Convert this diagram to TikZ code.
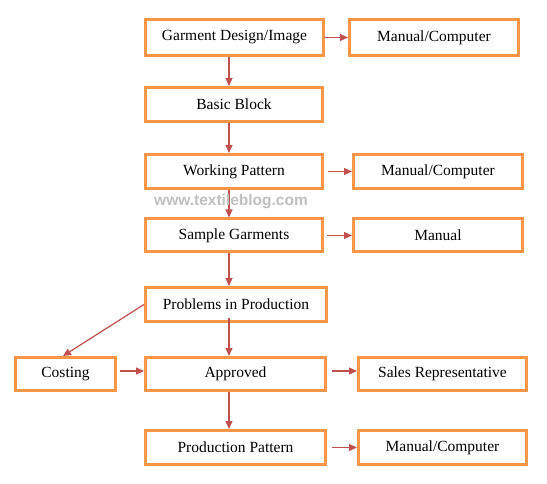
\documentclass[tikz,border=0pt]{standalone}
\usepackage{fontspec}
\setmainfont{Liberation Serif}
\newfontfamily\wmfont{Liberation Sans}
\usetikzlibrary{arrows.meta}
\definecolor{boxorange}{HTML}{F79646}
\definecolor{arrred}{HTML}{C0504D}
\definecolor{wmgray}{RGB}{192,192,192}
\begin{document}
\begin{tikzpicture}[x=1pt,y=-1pt,
  stepbox/.style={draw=boxorange, line width=3pt, fill=white, inner sep=0pt,
    font=\fontsize{15.5}{18}\selectfont, text=black},
  arr/.style={draw=arrred, line width=1.2pt, -{Triangle[length=8pt,width=7pt]}}]
\useasboundingbox (0,0) rectangle (547,484);
\fill[white] (0,0) rectangle (547,484);
% boxes: center, outer width/height minus line width
\node[stepbox, minimum width=178pt, minimum height=36pt] (gd) at (234.5,37.5) {Garment Design/Image};
\node[stepbox, minimum width=169pt, minimum height=36pt] (m1) at (434,37.5) {Manual/Computer};
\node[stepbox, minimum width=177pt, minimum height=34pt] (bb) at (234,104.5) {Basic Block};
\node[stepbox, minimum width=177pt, minimum height=34pt] (wp) at (234,171.5) {Working Pattern};
\node[stepbox, minimum width=169pt, minimum height=34pt] (m2) at (438,171.5) {Manual/Computer};
\node[stepbox, minimum width=177pt, minimum height=33pt] (sg) at (234,235.5) {Sample Garments};
\node[stepbox, minimum width=169pt, minimum height=33pt] (m3) at (438,235.5) {Manual};
\node[stepbox, minimum width=181pt, minimum height=34pt] (pp) at (236,304.5) {Problems in Production};
\node[stepbox, minimum width=100pt, minimum height=33pt] (co) at (65.5,374) {Costing};
\node[stepbox, minimum width=180pt, minimum height=33pt] (ap) at (235.5,374) {Approved};
\node[stepbox, minimum width=168pt, minimum height=33pt] (sr) at (442.5,374) {Sales Representative};
\node[stepbox, minimum width=180pt, minimum height=34pt] (pr) at (235.5,447.5) {Production Pattern};
\node[stepbox, minimum width=168pt, minimum height=34pt] (m4) at (442.5,447.5) {Manual/Computer};
\coordinate (vx) at (229,0);
% connectors
\draw[arr] (gd.east) -- (m1.west);
\draw[arr] (gd.south -| vx) -- (bb.north -| vx);
\draw[arr] (bb.south -| vx) -- (wp.north -| vx);
\draw[arr] ([xshift=4pt]wp.east) -- (m2.west);
\draw[arr] (wp.south -| vx) -- (sg.north -| vx);
\draw[arr] ([xshift=3pt]sg.east) -- (m3.west);
\draw[arr] (sg.south -| vx) -- (pp.north -| vx);
\draw[arr] ([yshift=0pt]pp.west) -- ([xshift=-2.5pt]co.north);
\draw[arr] ([yshift=5pt]pp.south -| vx) -- (ap.north -| vx);
\draw[arr] ([xshift=3pt,yshift=3pt]co.east) -- ([yshift=3pt]ap.west);
\draw[arr] ([xshift=5pt,yshift=3pt]ap.east) -- ([yshift=3pt]sr.west);
\draw[arr] (ap.south -| vx) -- (pr.north -| vx);
\draw[arr] ([xshift=5pt]pr.east) -- (m4.west);
% watermark
\node[text=wmgray, font=\wmfont\bfseries\fontsize{15.5}{18}\selectfont, inner sep=0pt] (wm) at (231,201.5) {www.textileblog.com};
\end{tikzpicture}
\end{document}
